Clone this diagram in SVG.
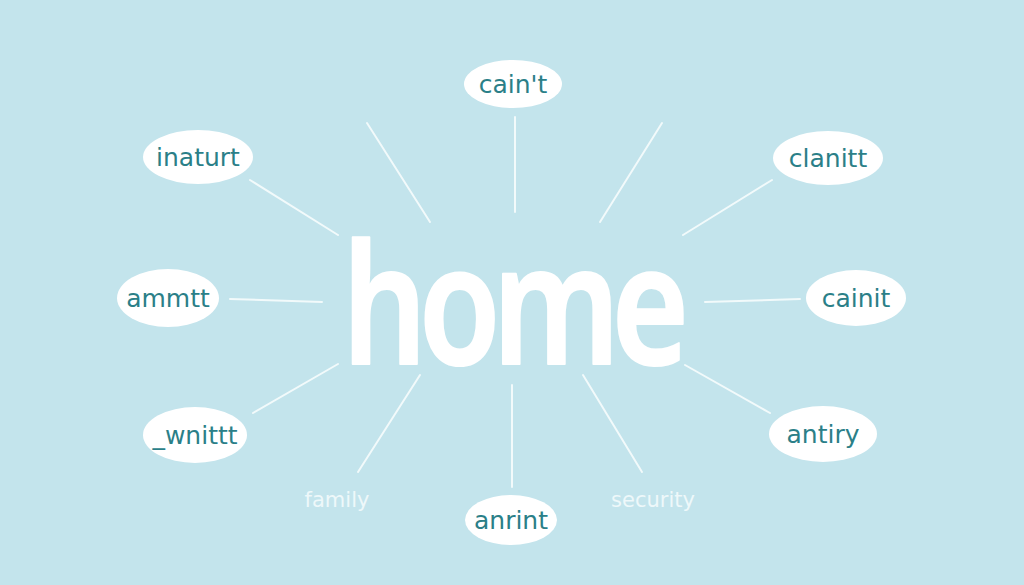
<svg xmlns="http://www.w3.org/2000/svg" width="1024" height="585" viewBox="0 0 1024 585">
<style>
.bubble{fill:#ffffff}
.lbl{font-family:"DejaVu Sans","Noto Sans",sans-serif;font-size:25px;fill:#2b7f88;text-anchor:middle}
.free{font-family:"DejaVu Sans","Noto Sans",sans-serif;font-size:21px;fill:#eef8fa;text-anchor:middle}
.conn line{stroke:#f2fafb;stroke-width:2;stroke-linecap:round}
</style>
<rect width="1024" height="585" fill="#c3e4ec"/>
<g id="connectors" class="conn">
<line x1="515" y1="117" x2="515" y2="212"/>
<line x1="367" y1="123" x2="430" y2="222"/>
<line x1="662" y1="123" x2="600" y2="222"/>
<line x1="250" y1="180" x2="338" y2="235"/>
<line x1="772" y1="180" x2="683" y2="235"/>
<line x1="230" y1="299" x2="322" y2="302"/>
<line x1="705" y1="302" x2="800" y2="299"/>
<line x1="253" y1="413" x2="338" y2="364"/>
<line x1="685" y1="365" x2="770" y2="413"/>
<line x1="420" y1="375" x2="358" y2="472"/>
<line x1="512" y1="385" x2="512" y2="487"/>
<line x1="583" y1="375" x2="642" y2="472"/>
</g>
<g id="home" transform="translate(515,364) scale(0.83,1.04)"><text x="-4" y="0" font-family="'Noto Sans','DejaVu Sans',sans-serif" font-weight="600" font-size="160" letter-spacing="-10" fill="#ffffff" stroke="#ffffff" stroke-width="2" stroke-linejoin="round" text-anchor="middle">home</text></g>
<g id="n-caint-top"><ellipse class="bubble" cx="513" cy="84" rx="49" ry="24"/><text class="lbl" x="513" y="93">cain't</text></g>
<g id="n-inaturt"><ellipse class="bubble" cx="198" cy="157" rx="55" ry="27"/><text class="lbl" x="198" y="166">inaturt</text></g>
<g id="n-clanitt"><ellipse class="bubble" cx="828" cy="158" rx="55" ry="27"/><text class="lbl" x="828" y="167">clanitt</text></g>
<g id="n-ammtt"><ellipse class="bubble" cx="168" cy="298" rx="51" ry="29"/><text class="lbl" x="168" y="307">ammtt</text></g>
<g id="n-cainit"><ellipse class="bubble" cx="856" cy="298" rx="50" ry="28"/><text class="lbl" x="856" y="307">cainit</text></g>
<g id="n-wnittt"><ellipse class="bubble" cx="195" cy="435" rx="52" ry="28"/><text class="lbl" x="195" y="444">_wnittt</text></g>
<g id="n-antiry"><ellipse class="bubble" cx="823" cy="434" rx="54" ry="28"/><text class="lbl" x="823" y="443">antiry</text></g>
<g id="n-anrint"><ellipse class="bubble" cx="511" cy="520" rx="46" ry="25"/><text class="lbl" x="511" y="529">anrint</text></g>
<g id="t-family"><text class="free" x="337" y="507">family</text></g>
<g id="t-security"><text class="free" x="653" y="507">security</text></g>
</svg>
